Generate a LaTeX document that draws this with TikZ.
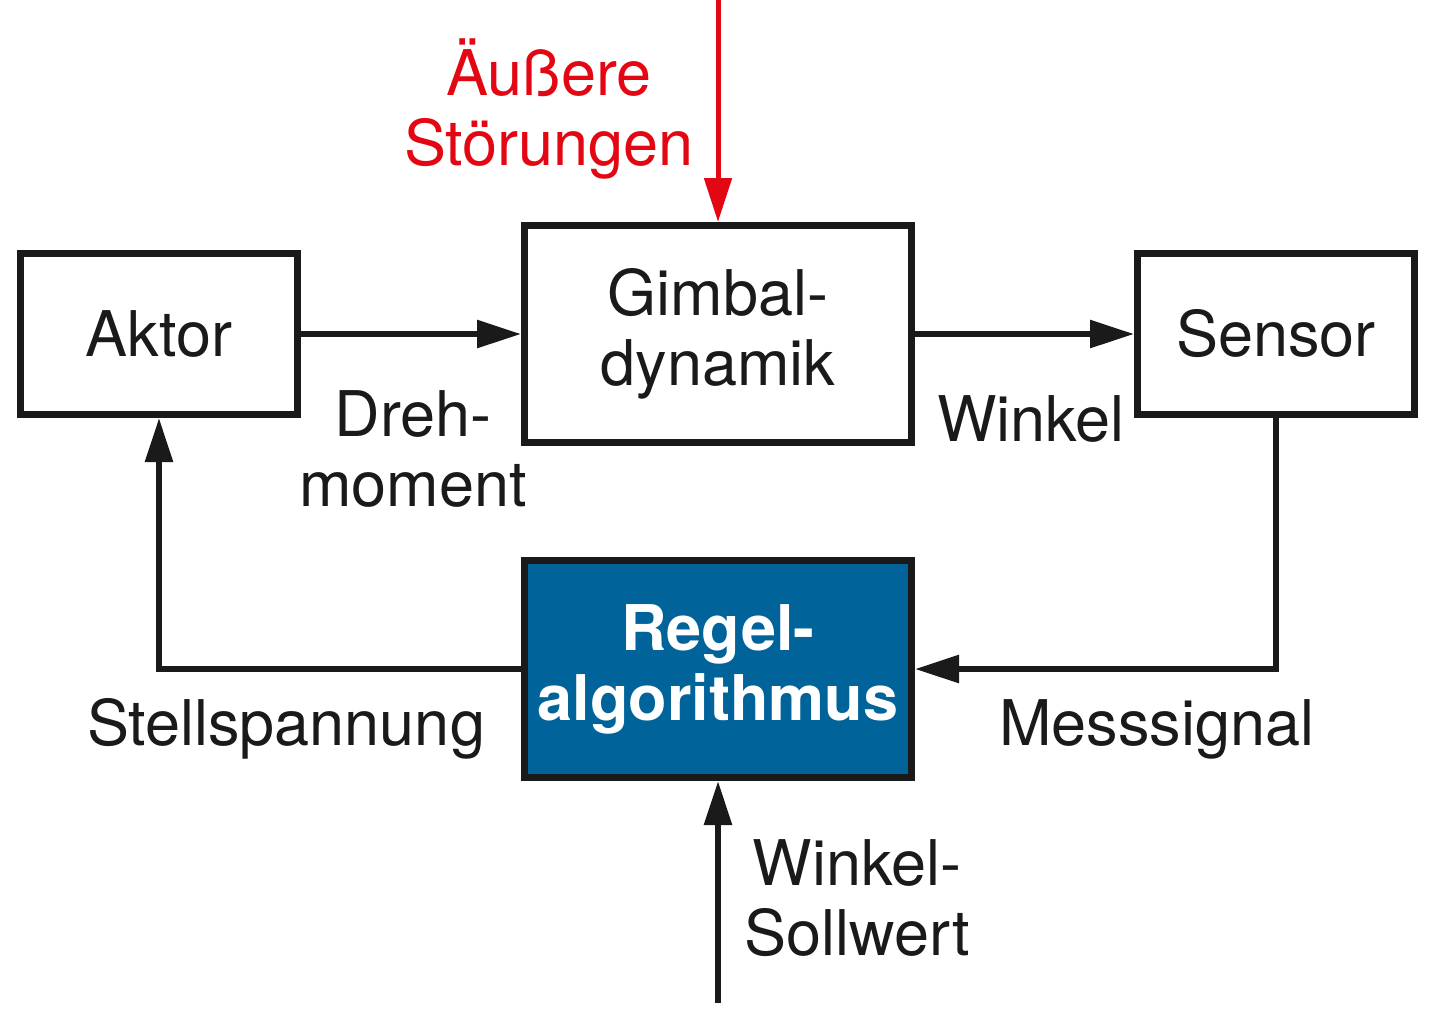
\documentclass[tikz,border=0pt]{standalone}
\usepackage{fontspec}
\setmainfont{TeX Gyre Heros}
\usetikzlibrary{arrows.meta}
\definecolor{regblue}{RGB}{0,99,154}
\definecolor{stoerred}{RGB}{227,6,19}
\definecolor{ink}{RGB}{26,26,26}
\begin{document}
\begin{tikzpicture}[x=1pt,y=-1pt,
  every node/.style={font=\fontsize{63}{70}\selectfont, inner sep=0pt, text=ink},
  blockbox/.style={draw=ink, line width=7pt, fill=white, align=center},
  smallbox/.style={blockbox, minimum width=277pt, minimum height=161pt},
  bigbox/.style={blockbox, minimum width=387pt, minimum height=217pt},
  conn/.style={draw=ink, line width=6pt, -{Triangle[length=44pt,width=27pt]}},
  lbl/.style={align=center, anchor=base}]
\useasboundingbox (0,0) rectangle (1440,1021);
\node[smallbox] (aktor) at (159,334) {Aktor};
\node[bigbox] (gimbal) at (718,334) {Gimbal-\\dynamik};
\node[smallbox] (sensor) at (1276,334) {Sensor};
\node[bigbox, fill=regblue, text=white, font=\fontsize{63}{70}\selectfont\bfseries] (regel) at (718,669) {Regel-\\algorithmus};
\coordinate (stoerin) at (718,0);
\coordinate (sollin) at (718,1003);
\draw[conn] (aktor) -- (gimbal);
\draw[conn] (gimbal) -- (sensor);
\draw[conn] (sensor.south) |- (regel.east);
\draw[conn] (regel.west) -| (aktor.south);
\draw[conn] (sollin) -- (regel.south);
\draw[conn, draw=stoerred, line width=5pt] (stoerin) -- (gimbal.north);
\node[lbl, text=stoerred] (stoer) at (549,165) {Äußere\\Störungen};
\node[lbl] (dreh) at (413,506) {Dreh-\\moment};
\node[lbl] (winkel) at (1031,441) {Winkel};
\node[lbl] (stell) at (286,745) {Stellspannung};
\node[lbl] (mess) at (1157,745) {Messsignal};
\node[lbl] (soll) at (857,955) {Winkel-\\Sollwert};
\end{tikzpicture}
\end{document}
